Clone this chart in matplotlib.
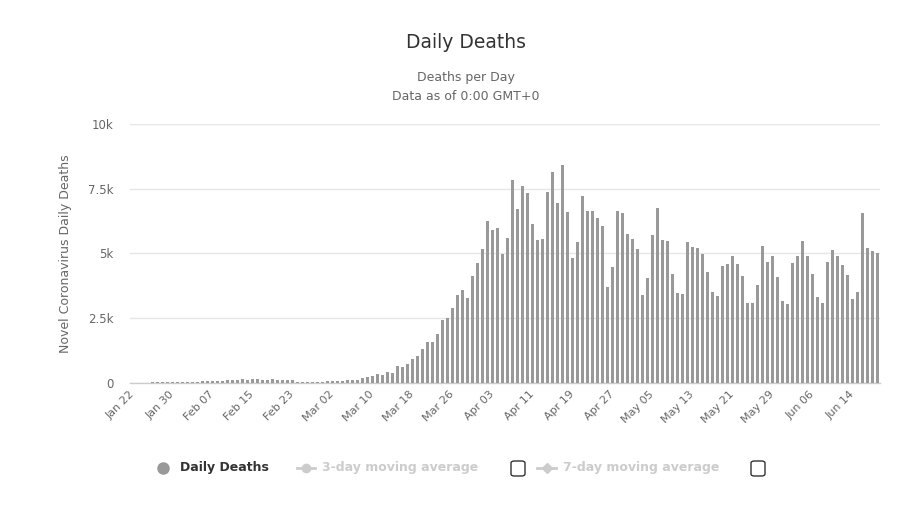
import matplotlib
matplotlib.use("Agg")
import matplotlib.pyplot as plt
from matplotlib.lines import Line2D
from matplotlib.patches import FancyBboxPatch

# ---- data (daily deaths, Jan 22 - Jun 19) ----
deaths_jan = [17, 8, 16, 14, 24, 26, 26, 38, 43, 46]
deaths_feb = [45, 46, 44, 45, 66, 73, 73, 86, 89, 97, 108, 97, 146, 121, 143,
              142, 105, 98, 136, 115, 118, 109, 97, 30, 30, 28, 25, 30, 32]
deaths_mar = [58, 67, 73, 83, 98, 108, 105, 180, 245, 270, 335, 309, 412, 374,
              644, 606, 747, 928, 1031, 1302, 1585, 1585, 1882, 2436, 2526,
              2887, 3416, 3596, 3287, 4125, 4640]
deaths_apr = [5156, 6239, 5917, 5994, 4962, 5581, 7824, 6716, 7592, 7322, 6136,
              5530, 5569, 7360, 8159, 6948, 8404, 6613, 4834, 5440, 7205, 6651,
              6651, 6368, 6046, 3712, 4460, 6651, 6561, 5762]
deaths_may = [5569, 5169, 3416, 4035, 5723, 6755, 5530, 5492, 4215, 3467, 3429,
              5440, 5259, 5208, 4962, 4279, 3506, 3377, 4499, 4589, 4885, 4589,
              4112, 3094, 3094, 3803, 5285, 4653, 4885, 4086, 3184]
deaths_jun = [3055, 4627, 4911, 5492, 4885, 4215, 3339, 3094, 4679, 5118, 4911,
              4550, 4163, 3235, 3500, 6561, 5208, 5079, 5014]

tick_labels = ["Jan 22", "Jan 30", "Feb 07", "Feb 15", "Feb 23", "Mar 02",
               "Mar 10", "Mar 18", "Mar 26", "Apr 03", "Apr 11", "Apr 19",
               "Apr 27", "May 05", "May 13", "May 21", "May 29", "Jun 06",
               "Jun 14"]
y_ticks = [0, 2500, 5000, 7500, 10000]
y_tick_labels = ["0", "2.5k", "5k", "7.5k", "10k"]

deaths = deaths_jan + deaths_feb + deaths_mar + deaths_apr + deaths_may + deaths_jun
x = list(range(len(deaths)))

W, H = 900, 520
fig = plt.figure(figsize=(W / 100, H / 100), dpi=100)
fig.patch.set_facecolor("white")
ax = fig.add_axes([130 / W, 137 / H, 750 / W, 259 / H])

ax.bar(x, deaths, width=0.6, color="#999999", linewidth=0, zorder=3)
ax.set_xlim(-0.5, len(deaths) - 0.5)
ax.set_ylim(0, 10000)

ax.set_yticks(y_ticks)
ax.set_yticklabels(y_tick_labels)
ax.yaxis.grid(True, color="#e6e6e6", linewidth=1)
ax.set_axisbelow(True)

ax.set_xticks(list(range(0, len(deaths), 8))[:len(tick_labels)])
ax.set_xticklabels(tick_labels, rotation=45, ha="right", va="center",
                   rotation_mode="anchor")

for s in ["top", "right", "left"]:
    ax.spines[s].set_visible(False)
ax.spines["bottom"].set_color("#cccccc")
ax.spines["bottom"].set_linewidth(1)

ax.tick_params(axis="y", length=0, pad=12, labelsize=8.5, labelcolor="#666666")
ax.tick_params(axis="x", length=0, pad=7, labelsize=8, labelcolor="#666666")

# titles
fig.text(466 / W, 1 - 42 / H, "Daily Deaths", ha="center", va="center",
         fontsize=13.5, color="#333333")
fig.text(466 / W, 1 - 78 / H, "Deaths per Day", ha="center", va="center",
         fontsize=9, color="#666666")
fig.text(466 / W, 1 - 97 / H, "Data as of 0:00 GMT+0", ha="center", va="center",
         fontsize=9, color="#666666")

fig.text(66 / W, 1 - 253.5 / H, "Novel Coronavirus Daily Deaths", rotation=90,
         ha="center", va="center", fontsize=9, color="#666666")

# legend
ly = 1 - 468 / H
fig.add_artist(Line2D([163 / W], [ly], marker="o", markersize=8, color="#999999",
                      linestyle="none", transform=fig.transFigure))
fig.text(180 / W, ly, "Daily Deaths", ha="left", va="center", fontsize=9,
         fontweight="bold", color="#333333")

fig.add_artist(Line2D([297 / W, 315 / W], [ly, ly], color="#cccccc", lw=2,
                      transform=fig.transFigure))
fig.add_artist(Line2D([306 / W], [ly], marker="o", markersize=6, color="#cccccc",
                      linestyle="none", transform=fig.transFigure))
fig.text(322 / W, ly, "3-day moving average", ha="left", va="center", fontsize=9,
         fontweight="bold", color="#cccccc")

fig.add_artist(Line2D([537 / W, 556 / W], [ly, ly], color="#cccccc", lw=2,
                      transform=fig.transFigure))
fig.add_artist(Line2D([546.5 / W], [ly], marker="D", markersize=5, color="#cccccc",
                      linestyle="none", transform=fig.transFigure))
fig.text(563 / W, ly, "7-day moving average", ha="left", va="center", fontsize=9,
         fontweight="bold", color="#cccccc")

for cx in (511, 751):
    box = FancyBboxPatch((cx / W, 1 - 476 / H), 14 / W, 15 / H,
                         boxstyle="round,pad=0,rounding_size=0.004",
                         transform=fig.transFigure, facecolor="white",
                         edgecolor="#333333", linewidth=1)
    fig.add_artist(box)

fig.savefig("out.png", dpi=100, facecolor="white")
